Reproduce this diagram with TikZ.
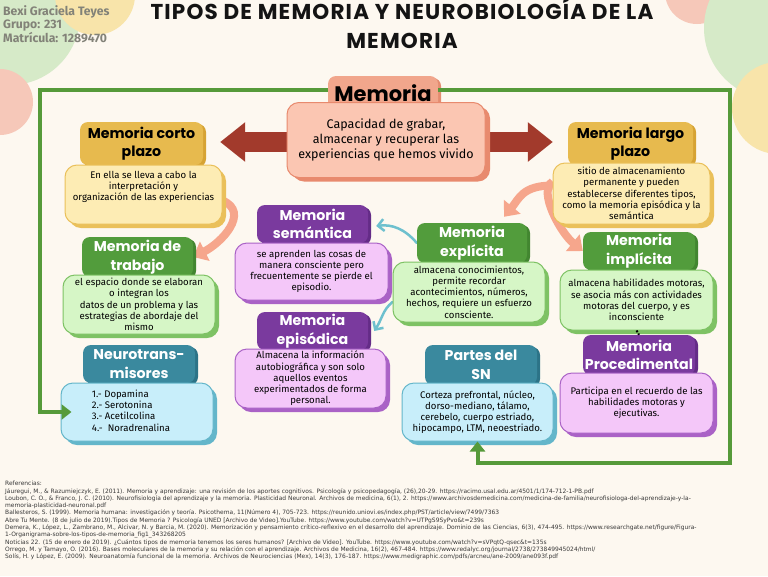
\documentclass[tikz,border=0pt]{standalone}
\usepackage{fontspec}
\usepackage{xcolor}
\usepackage{tikz}
\usetikzlibrary{arrows.meta,shadows}
\setmainfont{Fira Sans}
\newfontfamily\headfont{Poppins}
\newfontfamily\titlefont{Poppins}[LetterSpace=5.5]
\newfontfamily\reffont{DejaVu Sans}
\definecolor{bgcream}{RGB}{253,248,240}
\definecolor{circgreen}{RGB}{214,234,200}
\definecolor{circyellow}{RGB}{248,228,170}
\definecolor{circpink}{RGB}{246,200,185}
\definecolor{framegreen}{RGB}{86,154,58}
\definecolor{titleblack}{RGB}{20,20,20}
\definecolor{authgray}{RGB}{130,130,120}
\definecolor{reftext}{RGB}{55,55,55}
\definecolor{goldtop}{RGB}{231,186,78}
\definecolor{goldshade}{RGB}{214,163,52}
\definecolor{goldfill}{RGB}{253,236,180}
\definecolor{goldline}{RGB}{234,192,90}
\definecolor{greentop}{RGB}{82,156,60}
\definecolor{greenshade}{RGB}{66,134,48}
\definecolor{greenfill}{RGB}{214,246,198}
\definecolor{greenline}{RGB}{126,194,100}
\definecolor{purptop}{RGB}{122,58,158}
\definecolor{purpshade}{RGB}{100,44,135}
\definecolor{purpfill}{RGB}{244,199,249}
\definecolor{purpline}{RGB}{170,98,198}
\definecolor{tealtop}{RGB}{58,137,158}
\definecolor{tealshade}{RGB}{44,115,135}
\definecolor{tealfill}{RGB}{200,238,250}
\definecolor{tealline}{RGB}{100,182,202}
\definecolor{salmtop}{RGB}{241,166,140}
\definecolor{salmshade}{RGB}{228,140,112}
\definecolor{salmfill}{RGB}{251,198,178}
\definecolor{salmline}{RGB}{232,138,110}
\definecolor{arrowred}{RGB}{162,58,44}
\definecolor{arrowsalmon}{RGB}{246,166,140}
\definecolor{arrowcyan}{RGB}{110,192,206}
\pgfdeclarelayer{back}
\pgfsetlayers{back,main}
\tikzset{
  headbox/.style={rounded corners=8pt, inner sep=1pt, align=center,
    font=\headfont\bfseries\fontsize{14.2}{18.5}\selectfont},
  cardbox/.style={rounded corners=12pt, inner sep=1pt, align=center, line width=1pt,
    font=\fontsize{9.6}{11.2}\selectfont},
  goldhead/.style={headbox, fill=goldtop, text=black,
    drop shadow={shadow xshift=3pt, shadow yshift=-2pt, opacity=1, fill=goldshade}},
  goldcard/.style={cardbox, fill=goldfill, draw=goldline,
    drop shadow={shadow xshift=4pt, shadow yshift=-4pt, opacity=1, fill=goldline}},
  greenhead/.style={headbox, fill=greentop, text=white,
    drop shadow={shadow xshift=3pt, shadow yshift=-2pt, opacity=1, fill=greenshade}},
  greencard/.style={cardbox, fill=greenfill, draw=greenline,
    drop shadow={shadow xshift=4pt, shadow yshift=-4pt, opacity=1, fill=greenline}},
  purphead/.style={headbox, fill=purptop, text=white,
    drop shadow={shadow xshift=3pt, shadow yshift=-2pt, opacity=1, fill=purpshade}},
  purpcard/.style={cardbox, fill=purpfill, draw=purpline,
    drop shadow={shadow xshift=4pt, shadow yshift=-4pt, opacity=1, fill=purpline}},
  tealhead/.style={headbox, fill=tealtop, text=white,
    drop shadow={shadow xshift=3pt, shadow yshift=-2pt, opacity=1, fill=tealshade}},
  tealcard/.style={cardbox, fill=tealfill, draw=tealline,
    drop shadow={shadow xshift=4pt, shadow yshift=-4pt, opacity=1, fill=tealline}},
  salmhead/.style={headbox, fill=salmtop, text=black,
    drop shadow={shadow xshift=3pt, shadow yshift=-2pt, opacity=1, fill=salmshade}},
  salmcard/.style={cardbox, fill=salmfill, draw=salmline,
    drop shadow={shadow xshift=5pt, shadow yshift=-4pt, opacity=1, fill=salmline}},
  frameline/.style={draw=framegreen, line width=4pt, -{Triangle[length=10pt,width=15pt]}},
  bigarrow/.style={draw=arrowred, line width=20pt, -{Triangle[length=25pt,width=38pt]}},
  softarrow/.style={draw=arrowsalmon, line width=8pt, -{Triangle[length=13pt,width=21pt]}},
  thinarrow/.style={draw=arrowcyan, line width=2.5pt, line cap=round,
    -{Straight Barb[length=6pt,width=12pt]}}
}

\begin{document}
\begin{tikzpicture}[x=1pt,y=-1pt]
  \useasboundingbox (0,0) rectangle (768,576);
  % background with the soft circles
  \begin{pgfonlayer}{back}
    \fill[bgcream] (0,0) rectangle (768,576);
    \begin{scope}
      \clip (0,0) rectangle (768,576);
      \fill[circgreen] (10,15) circle[radius=70];
      \fill[circyellow] (95,-5) circle[radius=40];
      \fill[circpink] (0,102) circle[radius=33];
      \fill[circpink] (697,-8) circle[radius=32];
      \fill[circgreen] (776,28) circle[radius=72];
      \fill[circyellow] (778,108) circle[radius=46];
    \end{scope}
  \end{pgfonlayer}

  % title and author
  \node[font=\titlefont\bfseries\fontsize{21.5}{29}\selectfont, text=titleblack, align=center] (title) at (402,24)
    {TIPOS DE MEMORIA Y NEUROBIOLOGÍA DE LA\\MEMORIA};
  \node[anchor=north west, align=left, inner sep=0pt, text=authgray,
    font=\bfseries\fontsize{12.2}{13.5}\selectfont] (author) at (3,5)
    {Bexi Graciela Teyes\\Grupo: 231\\Matrícula: 1289470};

  % central concept
  \node[salmhead, minimum width=110pt, minimum height=34pt,
    font=\headfont\bfseries\fontsize{21}{24}\selectfont] (memhead) at (383,93) {Memoria};
  \node[salmcard, minimum width=198pt, minimum height=75pt,
    font=\fontsize{12.5}{15}\selectfont] (membody) at (386,140)
    {Capacidad de grabar,\\almacenar y recuperar las\\experiencias que hemos vivido};

  % left column
  \node[goldhead, minimum width=123pt, minimum height=43pt] (cortohead) at (141.5,143.5) {Memoria corto\\plazo};
  \node[goldcard, minimum width=157pt, minimum height=59pt] (cortobody) at (143.5,194.5)
    {En ella se lleva a cabo la\\interpretación y\\organización de las experiencias\\[6pt]};
  \node[greenhead, minimum width=111pt, minimum height=40pt] (trabhead) at (137.5,257) {Memoria de\\trabajo};
  \node[greencard, minimum width=152pt, minimum height=59pt] (trabbody) at (139,304.5)
    {el espacio donde se elaboran\\o integran los\\datos de un problema y las\\estrategias de abordaje del\\mismo};
  \node[tealhead, minimum width=112pt, minimum height=38pt] (neurohead) at (139,364) {Neurotrans-\\misores};
  \node[tealcard, minimum width=152pt, minimum height=58pt] (neurobody) at (137,412)
    {\begin{tabular}{@{}l@{}}1.- Dopamina\\2.- Serotonina\\3.- Acetilcolina\\4.-\ \ Noradrenalina\end{tabular}\hspace*{12pt}};

  % middle column
  \node[purphead, minimum width=111pt, minimum height=38pt] (semhead) at (312.5,224) {Memoria\\semántica};
  \node[purpcard, minimum width=153pt, minimum height=57pt] (sembody) at (311.5,271.5)
    {se aprenden las cosas de\\manera consciente pero\\frecuentemente se pierde el\\episodio.};
  \node[greenhead, minimum width=110pt, minimum height=40pt] (explhead) at (472,243) {Memoria\\explícita};
  \node[greencard, minimum width=152pt, minimum height=60pt] (explbody) at (469,292)
    {almacena conocimientos,\\permite recordar\\acontecimientos, números,\\hechos, requiere un esfuerzo\\consciente.};
  \node[purphead, minimum width=111pt, minimum height=38pt] (epihead) at (312.5,331) {Memoria\\episódica};
  \node[purpcard, minimum width=151pt, minimum height=59pt] (epibody) at (310.5,378.5)
    {Almacena la información\\autobiográfica y son solo\\aquellos eventos\\experimentados de forma\\personal.};
  \node[tealhead, minimum width=112pt, minimum height=40pt] (parteshead) at (481,365) {Partes del\\SN};
  \node[tealcard, minimum width=151pt, minimum height=58pt] (partesbody) at (477.5,412)
    {Corteza prefrontal, núcleo,\\dorso-mediano, tálamo,\\cerebelo, cuerpo estriado,\\hipocampo, LTM, neoestriado.};

  % right column
  \node[goldhead, minimum width=125pt, minimum height=43pt] (largohead) at (630.5,143.5) {Memoria largo\\plazo};
  \node[goldcard, minimum width=157pt, minimum height=61pt] (largobody) at (631.5,193.5)
    {sitio de almacenamiento\\permanente y pueden\\establecerse diferentes tipos,\\como la memoria episódica y la\\semántica};
  \node[greenhead, minimum width=112pt, minimum height=38pt] (implhead) at (639,251) {Memoria\\implícita};
  \node[greencard, minimum width=153pt, minimum height=60pt] (implbody) at (636.5,300)
    {almacena habilidades motoras,\\se asocia más con actividades\\motoras del cuerpo, y es\\inconsciente};
  \node[purphead, minimum width=112pt, minimum height=40pt] (prochead) at (639,355) {Memoria\\Procedimental};
  \node[purpcard, minimum width=153pt, minimum height=60pt] (procbody) at (636.5,403)
    {Participa en el recuerdo de las\\habilidades motoras y\\ejecutivas.};
  \draw[line width=2pt, dash pattern=on 2pt off 1.5pt] (implbody.south) -- (prochead.north);

  % arrows behind the cards
  \begin{pgfonlayer}{back}
    \draw[bigarrow] ([yshift=-2pt]membody.west) -- ([xshift=17pt,yshift=1.5pt]cortohead.east);
    \draw[bigarrow] ([yshift=-2pt]membody.east) -- ([xshift=-15pt,yshift=1.5pt]largohead.west);
    \draw[softarrow] ([yshift=-6pt]cortobody.east) .. controls +(28,12) and +(28,-14) .. (trabhead.east);
    \draw[softarrow] ([yshift=8pt]largobody.west) .. controls +(-30,0) and +(15,-18) .. ([xshift=32pt,yshift=6pt]explhead.north);
    \draw[softarrow] ([yshift=12pt]largobody.west) .. controls +(-15,10) and +(-22,-18) .. (implhead.west);
    \draw[thinarrow] (explhead.west) .. controls +(-12,-14) and +(16,-2) .. ([xshift=8pt,yshift=-2pt]semhead.east);
    \draw[thinarrow] ([yshift=-10pt]explbody.west) .. controls +(-10,8) and +(8,-12) .. ([xshift=6pt]epihead.east);
  \end{pgfonlayer}

  % green frame
  \coordinate (frameNW) at (40,90);
  \coordinate (frameNE) at (730,90);
  \coordinate (frameSE) at (730,463);
  \draw[frameline] ([yshift=3pt]memhead.west) -- (frameNW) |- ([xshift=11pt]neurobody.west);
  \draw[frameline] ([yshift=3pt]memhead.east) -- (frameNE) -- (frameSE) -| (partesbody.south);

  % references
  \node[anchor=north west, align=left, inner sep=0pt, text=reftext,
    font=\reffont\fontsize{5.95}{7.3}\selectfont] (refs) at (5,481)
    {Referencias:\\
     Jáuregui, M., \& Razumiejczyk, E. (2011). Memoria y aprendizaje: una revisión de los aportes cognitivos. Psicología y psicopedagogía, (26),20-29. https://racimo.usal.edu.ar/4501/1/174-712-1-PB.pdf\\
     Loubon, C. O., \& Franco, J. C. (2010). Neurofisiología del aprendizaje y la memoria. Plasticidad Neuronal. Archivos de medicina, 6(1), 2. https://www.archivosdemedicina.com/medicina-de-familia/neurofisiologa-del-aprendizaje-y-la-\\
     memoria-plasticidad-neuronal.pdf\\
     Ballesteros, S. (1999). Memoria humana: investigación y teoría. Psicothema, 11(Número 4), 705-723. https://reunido.uniovi.es/index.php/PST/article/view/7499/7363\\
     Abre Tu Mente. (8 de julio de 2019).Tipos de Memoria ? Psicología UNED [Archivo de Video].YouTube. https://www.youtube.com/watch?v=UTPgS9SyPvo\&t=239s\\
     Demera, K., López, L., Zambrano, M., Alcivar, N. y Barcia, M. (2020). Memorización y pensamiento crítico-reflexivo en el desarrollo del aprendizaje. Dominio de las Ciencias, 6(3), 474-495. https://www.researchgate.net/figure/Figura-\\
     1-Organigrama-sobre-los-tipos-de-memoria\_fig1\_343268205\\
     Noticias 22. (15 de enero de 2019). ¿Cuántos tipos de memoria tenemos los seres humanos? [Archivo de Video]. YouTube. https://www.youtube.com/watch?v=sVPqtQ-qsec\&t=135s\\
     Orrego, M. y Tamayo, O. (2016). Bases moleculares de la memoria y su relación con el aprendizaje. Archivos de Medicina, 16(2), 467-484. https://www.redalyc.org/journal/2738/273849945024/html/\\
     Solís, H. y López, E. (2009). Neuroanatomía funcional de la memoria. Archivos de Neurociencias (Mex), 14(3), 176-187. https://www.medigraphic.com/pdfs/arcneu/ane-2009/ane093f.pdf};
\end{tikzpicture}
\end{document}
